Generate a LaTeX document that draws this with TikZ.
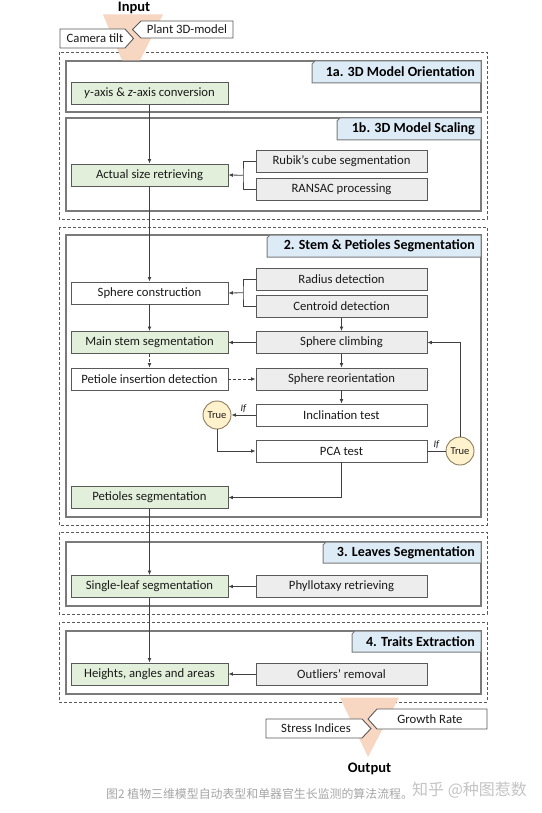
\documentclass[tikz,border=0pt]{standalone}
\usepackage{fontspec}
\setmainfont{Carlito}
\newfontfamily\cjk{Noto Sans CJK SC}
\usetikzlibrary{arrows.meta}
\definecolor{boxline}{HTML}{595959}
\definecolor{innerline}{HTML}{7A7A7A}
\definecolor{greenfill}{HTML}{E2EFDA}
\definecolor{grayfill}{HTML}{EDEDED}
\definecolor{tabfill}{HTML}{DDEBF7}
\definecolor{truefill}{HTML}{FFF2CC}
\definecolor{trueline}{HTML}{8B7D5B}
\definecolor{funnelc}{HTML}{F8D7C2}
\definecolor{txt}{HTML}{1A1A1A}
\definecolor{conn}{HTML}{404040}
\definecolor{capgray}{HTML}{A6A6A6}
\definecolor{wmgray}{HTML}{C4C4C4}
\begin{document}
\begin{tikzpicture}[x=1pt,y=-1pt,
  base/.style={draw=boxline, line width=0.9pt, inner sep=0pt, text=txt, font=\fontsize{12.7}{14}\selectfont},
  lbox/.style={base, minimum width=157pt, minimum height=22pt},
  rbox/.style={base, minimum width=171pt, minimum height=22pt, fill=grayfill},
  gbox/.style={fill=greenfill},
  wbox/.style={fill=white},
  circ/.style={circle, draw=trueline, line width=0.9pt, fill=truefill, minimum size=28pt, inner sep=0pt, text=txt, font=\fontsize{10.5}{12}\selectfont},
  outerbox/.style={draw=boxline, line width=0.8pt, dash pattern=on 3pt off 2pt},
  innerbox/.style={draw=innerline, line width=1.2pt},
  tabbox/.style={draw=innerline, line width=1.0pt, fill=tabfill},
  tabtext/.style={anchor=east, inner sep=0pt, text=black, font=\bfseries\fontsize{14}{16}\selectfont},
  conline/.style={draw=conn, line width=0.8pt},
  arr/.style={conline, -{Latex[length=4.5pt,width=3.8pt]}},
  dasharr/.style={arr, dash pattern=on 3pt off 2pt},
  iflabel/.style={inner sep=1.5pt, text=txt, font=\itshape\fontsize{10}{12}\selectfont},
  shapebox/.style={draw=boxline, line width=0.9pt, fill=white},
  shapetext/.style={inner sep=0pt, text=txt, font=\fontsize{12.7}{14}\selectfont},
  bigtext/.style={inner sep=0pt, anchor=base, text=black, font=\bfseries\fontsize{14.5}{16}\selectfont}
]
\useasboundingbox (0,0) rectangle (541,813);
\fill[white] (0,0) rectangle (541,813);

% outer dashed boxes
\draw[outerbox] (59,52) rectangle (487,219);
\draw[outerbox] (59,227) rectangle (487,525);
\draw[outerbox] (59,532) rectangle (487,614);
\draw[outerbox] (59,622) rectangle (487,702);

% inner boxes
\draw[innerbox] (66,61) rectangle (481,112);
\draw[innerbox] (66,118) rectangle (481,211);
\draw[innerbox] (66,235) rectangle (481,517);
\draw[innerbox] (66,542) rectangle (481,606);
\draw[innerbox] (66,631) rectangle (481,694);

% tabs
\draw[tabbox] (312,83) -- (312,64) -- (315,61) -- (481,61) -- (481,83) -- cycle;
\node[tabtext] (t1a) at (475,72) {1a. 3D Model Orientation};
\draw[tabbox] (337,140) -- (337,121) -- (340,118) -- (481,118) -- (481,140) -- cycle;
\node[tabtext] (t1b) at (475,129) {1b. 3D Model Scaling};
\draw[tabbox] (267,257) -- (267,238) -- (270,235) -- (481,235) -- (481,257) -- cycle;
\node[tabtext] (t2) at (475,246) {2. Stem \& Petioles Segmentation};
\draw[tabbox] (323,563) -- (323,545) -- (326,542) -- (481,542) -- (481,563) -- cycle;
\node[tabtext] (t3) at (475,552.5) {3. Leaves Segmentation};
\draw[tabbox] (352,652) -- (352,634) -- (355,631) -- (481,631) -- (481,652) -- cycle;
\node[tabtext] (t4) at (475,641.5) {4. Traits Extraction};

% input
\node[bigtext] (input) at (134,11.5) {Input};
\fill[funnelc] (103,14.5) -- (163,14.5) -- (140,60.4) -- (122,60.4) -- cycle;
\draw[shapebox] (141,21) -- (233,21) -- (233,38) -- (141,38) -- (132.5,29.5) -- cycle;
\node[shapetext] (plant) at (187,29.5) {Plant 3D-model};
\draw[shapebox] (60,29) -- (125,29) -- (133.5,38.5) -- (125,48) -- (60,48) -- cycle;
\node[shapetext] (camera) at (95,38.5) {Camera tilt};

% nodes
\node[lbox,gbox] (yz) at (149.5,93.5) {\textit{y}-axis \& \textit{z}-axis conversion};
\node[lbox,gbox] (actual) at (149.5,175) {Actual size retrieving};
\node[rbox] (rubik) at (341.5,161.5) {Rubik’s cube segmentation};
\node[rbox] (ransac) at (341.5,189) {RANSAC processing};
\node[lbox,wbox] (sphc) at (149.5,293) {Sphere construction};
\node[rbox] (radius) at (341.5,279) {Radius detection};
\node[rbox] (centroid) at (341.5,306.5) {Centroid detection};
\node[lbox,gbox] (mainstem) at (149.5,342.5) {Main stem segmentation};
\node[rbox] (climb) at (341.5,342.5) {Sphere climbing};
\node[lbox,wbox] (petins) at (149.5,379) {Petiole insertion detection};
\node[rbox] (reor) at (341.5,379) {Sphere reorientation};
\node[rbox,wbox] (incl) at (341.5,415) {Inclination test};
\node[circ] (true1) at (217,415) {True};
\node[rbox,wbox] (pca) at (341.5,451) {PCA test};
\node[circ] (true2) at (460,451) {True};
\node[lbox,gbox] (petseg) at (149.5,497.5) {Petioles segmentation};
\node[lbox,gbox] (leaf) at (149.5,586.5) {Single-leaf segmentation};
\node[rbox] (phyllo) at (341.5,586.5) {Phyllotaxy retrieving};
\node[lbox,gbox] (heights) at (149.5,674) {Heights, angles and areas};
\node[rbox] (outliers) at (341.5,674) {Outliers’ removal};

% connectors
\draw[arr] (yz.south) -- (actual.north);
\coordinate (b1) at (243,175.25);
\draw[conline] (rubik.west) -| (b1) |- (ransac.west);
\draw[arr] (b1) -- (actual.east);
\draw[arr] (actual.south) -- (sphc.north);
\coordinate (b2) at (243,292.75);
\draw[conline] (radius.west) -| (b2) |- (centroid.west);
\draw[arr] (b2) -- (sphc.east);
\draw[arr] (centroid.south) -- (climb.north);
\draw[arr] (climb.west) -- (mainstem.east);
\draw[arr] (sphc.south) -- (mainstem.north);
\draw[dasharr] (mainstem.south) -- (petins.north);
\draw[arr] (climb.south) -- (reor.north);
\draw[dasharr] (petins.east) -- (reor.west);
\draw[arr] (reor.south) -- (incl.north);
\draw[arr] (incl.west) -- node[iflabel, above] {If} (true1.east);
\draw[arr] (true1.south) |- (pca.west);
\draw[conline] (pca.east) -- node[iflabel, above] {If} (true2.west);
\draw[arr] (true2.north) |- (climb.east);
\draw[arr] (pca.south) |- (petseg.east);
\draw[arr] (petseg.south) -- (leaf.north);
\draw[arr] (phyllo.west) -- (leaf.east);
\draw[arr] (leaf.south) -- (heights.north);
\draw[arr] (outliers.west) -- (heights.east);

% output
\fill[funnelc] (340,697.5) -- (399,697.5) -- (368,757) -- cycle;
\draw[shapebox] (377,709) -- (487,709) -- (487,729) -- (377,729) -- (368,719) -- cycle;
\node[shapetext] (growth) at (430,719) {Growth Rate};
\draw[shapebox] (266,719) -- (362,719) -- (371,728.5) -- (362,738) -- (266,738) -- cycle;
\node[shapetext] (stress) at (316,728.5) {Stress Indices};
\node[bigtext] (output) at (369.5,772) {Output};

% caption and watermark
\node[anchor=west, inner sep=0pt, text=capgray, font=\cjk\fontsize{11.9}{14}\selectfont] (cap) at (106,794) {图2 植物三维模型自动表型和单器官生长监测的算法流程。};
\node[anchor=west, inner sep=0pt, text=wmgray, font=\cjk\fontsize{16}{18}\selectfont] (wm) at (412,790) {知乎 @种图惹数};
\end{tikzpicture}
\end{document}
